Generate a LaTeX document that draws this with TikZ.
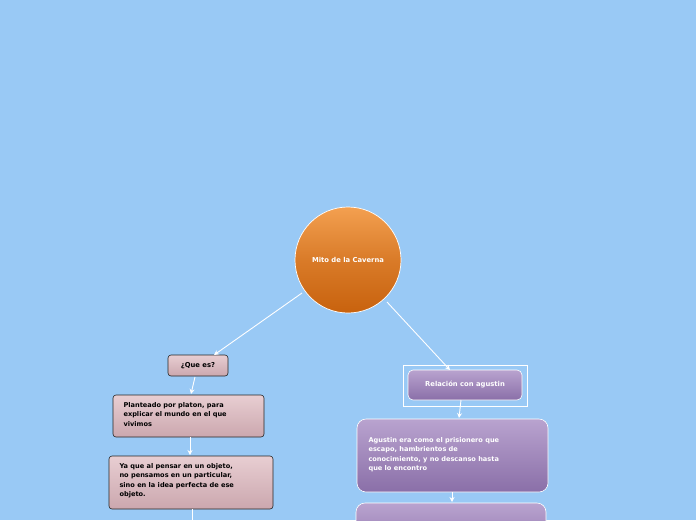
\documentclass[tikz,border=0pt]{standalone}
\usepackage{fontspec}
\setmainfont{DejaVu Sans}
\usetikzlibrary{arrows.meta}
\definecolor{bg}{HTML}{99C9F5}
\definecolor{pinkT}{HTML}{E8CED2}
\definecolor{pinkB}{HTML}{CBA7AE}
\definecolor{purT}{HTML}{B9A3CF}
\definecolor{purB}{HTML}{8A6FA8}
\definecolor{orT}{HTML}{F3A050}
\definecolor{orB}{HTML}{C8620E}
\tikzset{
 pinkbox/.style={draw=black!85,rounded corners=3pt,top color=pinkT,bottom color=pinkB,line width=0.6pt},
 purbox/.style={draw=white,rounded corners=5pt,top color=purT,bottom color=purB,line width=0.6pt},
 txt/.style={font=\fontsize{6.6}{9.4}\selectfont\bfseries,align=left,anchor=north west},
 conn/.style={draw=white,line width=0.9pt,-{Stealth[length=5pt,width=5pt]}}
}
\begin{document}
\begin{tikzpicture}[x=1pt,y=-1pt]
\useasboundingbox (0,0) rectangle (696,520);
\clip (0,0) rectangle (696,520);
\fill[bg] (0,0) rectangle (696,520);
% central
\shade[top color=orT,bottom color=orB,middle color=orB!60!orT] (348,260) circle (53);
\draw[white,line width=0.7pt] (348,260) circle (53);
\node[font=\fontsize{6.8}{8}\selectfont\bfseries,text=white] (c) at (348,260) {Mito de la Caverna};
\coordinate (c1) at (302,293); \coordinate (c2) at (387,302);
% left
\path[pinkbox] (168,355) rectangle (228,376);
\node (q) at (198,365.5) {}; \node[font=\fontsize{6.8}{8}\selectfont\bfseries] at (198,365.5) {¿Que es?};
\path[pinkbox] (113,395) rectangle (264,437);
\node[txt] (p) at (120,399) {Planteado por platon, para\\explicar el mundo en el que\\vivimos};
\path[pinkbox] (109,456) rectangle (273,509);
\node[txt] (y) at (116,460) {Ya que al pensar en un objeto,\\no pensamos en un particular,\\sino en la idea perfecta de ese\\objeto.};
\coordinate (q1) at (195,377); \coordinate (q2) at (191,394);
\coordinate (p1) at (190,437); \coordinate (p2) at (190,455);
\coordinate (y1) at (192,509); \coordinate (y2) at (192,520);
% right
\draw[white,line width=0.6pt] (403,365) rectangle (527,406);
\path[purbox] (408,370) rectangle (522,400);
\node[font=\fontsize{6.8}{8}\selectfont\bfseries,text=white] (r) at (465,385) {Relación con agustin};
\path[purbox,rounded corners=9pt] (357,419) rectangle (548,492);
\node[txt,text=white] (a) at (365,434) {Agustin era como el prisionero que\\escapo, hambrientos de\\conocimiento, y no descanso hasta\\que lo encontro};
\path[purbox,rounded corners=9pt] (356,503) rectangle (546,560);
\coordinate (r1) at (461,400); \coordinate (r2) at (459,418);
\coordinate (a1) at (452,492); \coordinate (a2) at (452,502);
\coordinate (c3) at (214,355); \coordinate (c4) at (450,370);
\draw[conn] (c1) -- (c3);
\draw[conn] (c2) -- (c4);
\draw[conn] (q1) -- (q2);
\draw[conn] (p1) -- (p2);
\draw[white,line width=0.9pt] (y1) -- (y2);
\draw[conn] (r1) -- (r2);
\draw[conn] (a1) -- (a2);
\end{tikzpicture}
\end{document}
